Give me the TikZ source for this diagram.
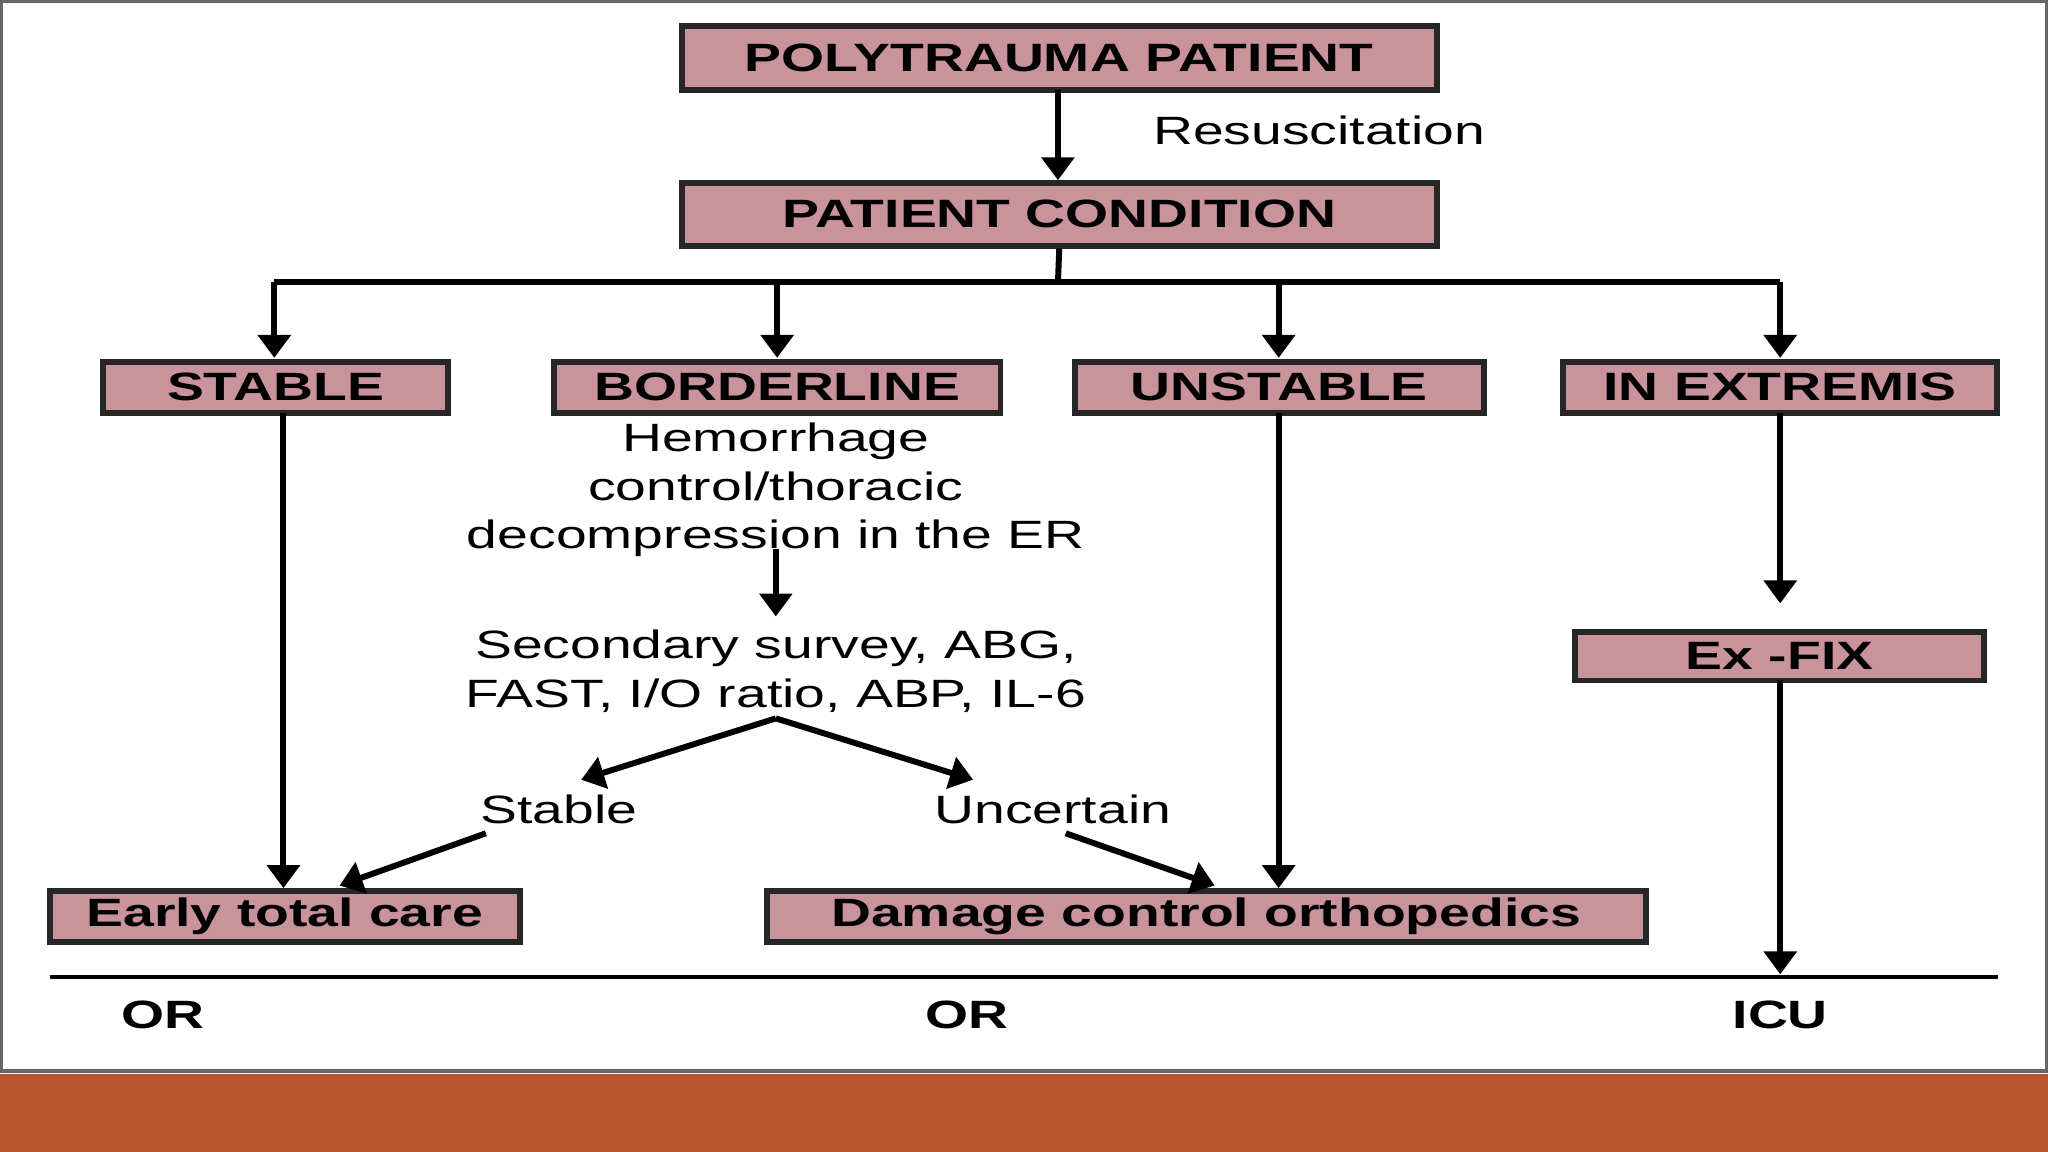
\documentclass[tikz,border=0pt]{standalone}
\usepackage{fontspec}
\setmainfont[FakeStretch=1.4]{Liberation Sans}
\usetikzlibrary{arrows.meta}
\definecolor{boxfill}{HTML}{C9939C}
\definecolor{band}{HTML}{B9552C}
\tikzset{
 bx/.style={draw=black!85,line width=1.3pt,fill=boxfill,inner sep=0pt,font=\fontsize{8.6}{10}\selectfont\bfseries},
 tx/.style={font=\fontsize{8.6}{10.6}\selectfont,align=center,inner sep=0pt},
 ar/.style={line width=1.3pt,-{Triangle[length=5pt,width=7pt]}},
 ln/.style={line width=1.3pt}
}
\begin{document}
\begin{tikzpicture}[x=0.01cm,y=-0.01cm]
\useasboundingbox (0,0) rectangle (1568,882);
\fill[white] (0,0) rectangle (1568,822);
\draw[black!60,line width=0.8pt] (1,1) rectangle (1567,820);
\fill[band] (0,822) rectangle (1568,882);
\newcommand{\bxn}[6]{\node[bx,minimum width=#3*0.01cm-#2*0.01cm,minimum height=#5*0.01cm-#4*0.01cm] (#1) at ({(#2+#3)/2},{(#4+#5)/2}) {#6};}
\bxn{pp}{522}{1100}{20}{69}{POLYTRAUMA PATIENT}
\bxn{pc}{522}{1100}{140}{188}{PATIENT CONDITION}
\bxn{st}{79}{343}{277}{316}{STABLE}
\bxn{bl}{424}{766}{277}{316}{BORDERLINE}
\bxn{un}{823}{1136}{277}{316}{UNSTABLE}
\bxn{ie}{1197}{1529}{277}{316}{IN EXTREMIS}
\bxn{ex}{1206}{1519}{484}{521}{Ex -FIX}
\bxn{etc}{38}{398}{682}{721}{Early total care}
\bxn{dco}{587}{1260}{682}{721}{Damage control orthopedics}
\node[tx] (res) at (1010,100) {Resuscitation};
\node[tx] (hem) at (594,375) {Hemorrhage\\control/thoracic\\decompression in the ER};
\node[tx] (sec) at (594,514) {Secondary survey, ABG,\\FAST, I/O ratio, ABP, IL-6};
\node[tx] (sl) at (428,620) {Stable};
\node[tx] (ul) at (806,620) {Uncertain};
\node[tx,font=\fontsize{8.6}{10}\selectfont\bfseries] (or1) at (125,777) {OR};
\node[tx,font=\fontsize{8.6}{10}\selectfont\bfseries] (or2) at (740,777) {OR};
\node[tx,font=\fontsize{8.6}{10}\selectfont\bfseries] (icu) at (1363,777) {ICU};
\draw[ar] (810,69) -- (810,138);
\coordinate (j) at (810,216);
\draw[ln] (pc.south) -- (j);
\draw[ln] (210,216) -- (1363,216);
\foreach \x/\n in {210/st,595/bl,979/un,1363/ie} \draw[ar] (\x,216) -- (\x,274);
\draw[ar] (217,316) -- (217,680);
\draw[ar] (594,420) -- (594,472);
\coordinate (s0) at (594,550);
\draw[ar] (s0) -- (445,597);
\draw[ar] (s0) -- (745,597);
\draw[ar] (372,638) -- (260,678);
\draw[ar] (816,638) -- (930,678);
\draw[ar] (979,316) -- (979,680);
\draw[ar] (1363,316) -- (1363,462);
\draw[ar] (1363,521) -- (1363,746);
\draw[line width=1pt] (38,748) -- (1530,748);
\end{tikzpicture}
\end{document}
